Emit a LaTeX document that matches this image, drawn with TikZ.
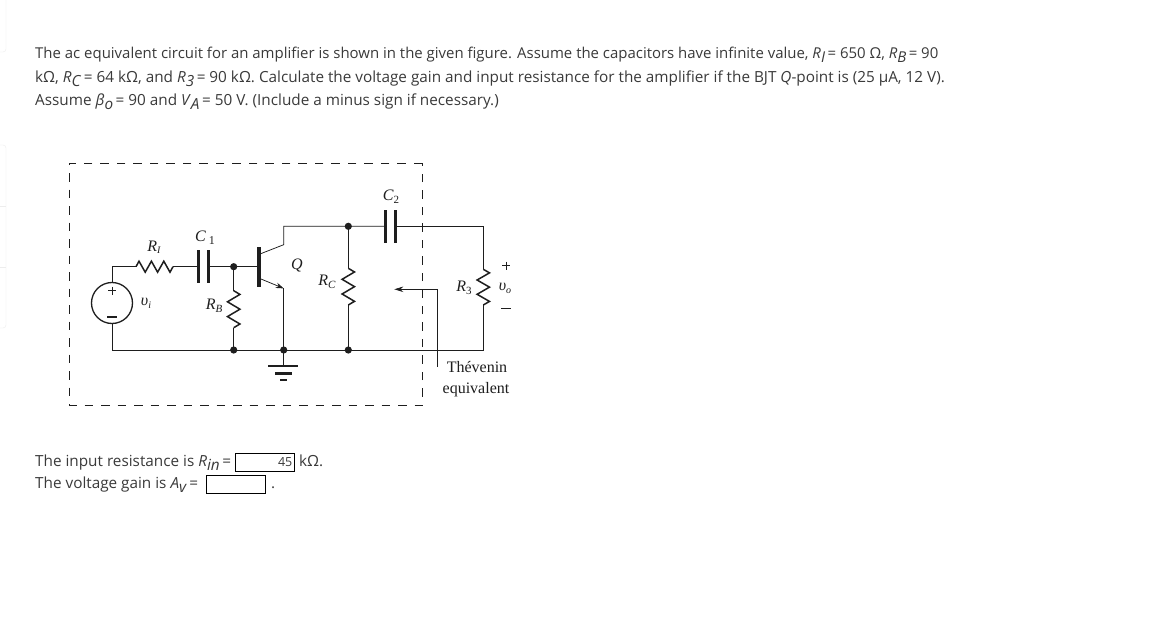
\documentclass[tikz,border=0pt]{standalone}
\usepackage{fontspec}
\setmainfont{Open Sans}
\newfontfamily\fig{Liberation Serif}
\usetikzlibrary{arrows.meta}
\definecolor{txt}{HTML}{3A3A3A}
\definecolor{ink}{HTML}{1E1E1E}
\definecolor{edge}{HTML}{EDEDED}
\newcommand{\ii}[1]{\textit{#1}}
\newcommand{\low}[1]{\raisebox{-4pt}{\textit{#1}}}
\newcommand{\zzv}[3]{\draw[res] (#1) -- ++(#3,{#2/10}) -- ++({-2*#3},{#2/5}) -- ++({2*#3},{#2/5}) -- ++({-2*#3},{#2/5}) -- ++({2*#3},{#2/5}) -- ++({-#3},{#2/10});}
\tikzset{
 x=1pt,y=-1pt,
 para/.style={anchor=base west,inner sep=0,text=txt,font=\fontsize{15.3}{16}\selectfont},
 lab/.style={inner sep=0,text=ink,font=\fig\fontsize{16}{18}\selectfont\itshape},
 wire/.style={draw=ink,line width=0.75pt},
 res/.style={draw=ink,line width=1.5pt,line join=miter},
 plate/.style={draw=ink,line width=2.6pt},
 dot/.style={circle,fill=ink,inner sep=0,minimum size=7.2pt},
 ansbox/.style={draw=black,line width=0.7pt,fill=white,inner sep=0,minimum height=18pt,rectangle},
 gbar/.style={draw=ink,line width=2.6pt},
}
\begin{document}
\begin{tikzpicture}
\useasboundingbox[fill=white] (0,0) rectangle (1173,623);
% faint page edges
\draw[edge,rounded corners=3pt] (-3,-3) -- (6,-3) -- (6,52) -- (-3,52);
\draw[edge,rounded corners=3pt] (-3,145) -- (6,145) -- (6,328) -- (-3,328);
\draw[edge] (0,206) -- (6,206);
\draw[edge] (0,267) -- (6,267);
% question text
\node[para,font=\fontsize{14.95}{16}\selectfont] (l1) at (35,59) {The ac equivalent circuit for an amplifier is shown in the given figure. Assume the capacitors have infinite value, \ii{R}\low{I}\,= 650 Ω, \ii{R}\low{B}\,= 90};
\node[para] (l2) at (35,82.5) {kΩ, \ii{R}\low{C}\,= 64 kΩ, and \ii{R}\low{3}\,= 90 kΩ. Calculate the voltage gain and input resistance for the amplifier if the BJT \ii{Q}-point is (25 μA, 12 V).};
\node[para] (l3) at (35,105.5) {Assume \ii{β}\low{o}\,= 90 and \ii{V}\low{A}\,= 50 V. (Include a minus sign if necessary.)};
% dashed box
\draw[draw=ink,line width=0.7pt,dash pattern=on 8.5pt off 8pt] (422.3,163) -- (69.5,163) -- (69.5,405.5) -- (422.3,405.5) -- cycle;
% junctions
\node[dot] (nb) at (233.7,266.7) {};
\node[dot] (nrb) at (233.7,350) {};
\node[dot] (ne) at (283.7,350) {};
\node[dot] (nc) at (348.3,226.3) {};
\node[dot] (nrc) at (348.3,350) {};
\coordinate (bl) at (112,350);
\coordinate (br) at (483.3,350);
\coordinate (tr) at (483.3,226.3);
\coordinate (tl) at (112,266.7);
\node[circle,draw=ink,line width=1.3pt,minimum size=41pt,inner sep=0] (src) at (112,303) {};
% wires
\draw[wire] (src.north) -- (tl) -- (136,266.7);
\draw[wire] (172.7,266.7) -- (198.3,266.7);
\draw[wire] (208.3,266.7) -- (nb.center) -- (259,266.7);
\draw[wire] (src.south) -- (bl) -- (br) -- (483.3,305);
\draw[wire] (483.3,269.3) -- (tr) -- (395.3,226.3);
\draw[wire] (385.7,226.3) -- (nc.center) -- (283.7,226.3) -- (283.7,244.7) -- (261,253.6);
\draw[wire] (nb.center) -- (233.7,290.7);
\draw[wire] (233.7,327.7) -- (nrb.center);
\draw[wire] (nc.center) -- (348.3,268.3);
\draw[wire] (348.3,305) -- (nrc.center);
% BJT
\draw[plate,line width=3.4pt] (259,247.3) -- (259,286.7);
\draw[wire,-{Stealth[length=8pt,width=5.5pt]}] (261,279) -- (283.7,288.4);
\draw[wire] (283.7,288) -- (ne.center);
% capacitors
\draw[plate] (198.3,250) -- (198.3,282.7);
\draw[plate] (208.3,250) -- (208.3,282.7);
\draw[plate] (385.7,210) -- (385.7,242.7);
\draw[plate] (395.3,210) -- (395.3,242.7);
% resistors
\draw[res] (136,266.7) -- ++(3,-5.5) -- ++(6.2,11) -- ++(6.2,-11) -- ++(6.2,11) -- ++(6.2,-11) -- ++(6.2,11) -- ++(3,-5.5);
\coordinate (rb) at (233.7,290.7); \zzv{rb}{37}{6.2}
\coordinate (rc) at (348.3,268.3); \zzv{rc}{36.7}{6.2}
\coordinate (r3) at (483.3,269.3); \zzv{r3}{35.7}{6.2}
% ground
\draw[wire] (ne.center) -- (283.7,366);
\draw[gbar] (268,366) -- (298.3,366);
\draw[gbar] (275,373.3) -- (291.5,373.3);
\draw[gbar] (280,380) -- (287.3,380);
% source signs
\draw[draw=ink,line width=0.7pt] (108,290.5) -- (116,290.5) (112,286.5) -- (112,294.5);
\draw[draw=ink,line width=1.5pt] (107,317) -- (117,317);
% Thevenin arrow
\coordinate (ta) at (394.3,289.3);
\coordinate (tb) at (437.3,289.3);
\coordinate (tc) at (437.3,366.7);
\draw[wire,-{Stealth[length=9pt,width=5.5pt]}] (tc) -- (tb) -- (ta);
% labels
\node[lab] (lri) at (154,247.5) {R\raisebox{-2pt}{\fontsize{10}{10}\selectfont I}};
\node[lab] (lc1) at (205,238) {C\kern3pt\raisebox{-3pt}{\upshape\fontsize{12}{12}\selectfont 1}};
\node[lab] (lvi) at (146,303) {\textit{υ}\raisebox{-3pt}{\fontsize{10}{10}\selectfont i}};
\node[lab] (lrb) at (214,306) {R\raisebox{-3pt}{\fontsize{11}{11}\selectfont B}};
\node[lab] (lq) at (297,265.5) {Q};
\node[lab] (lrc) at (327,282) {R\raisebox{-3pt}{\fontsize{11}{11}\selectfont C}};
\node[lab] (lc2) at (391,197) {C\raisebox{-3pt}{\upshape\fontsize{11}{11}\selectfont 2}};
\node[lab] (lr3) at (464,288) {R\raisebox{-3pt}{\upshape\fontsize{11}{11}\selectfont 3}};
\node[lab] (lvo) at (505,288) {\textit{υ}\raisebox{-3pt}{\fontsize{10}{10}\selectfont o}};
\draw[draw=ink,line width=0.8pt] (502,265.5) -- (510,265.5) (506,261.5) -- (506,269.5);
\draw[draw=ink,line width=1.6pt] (501,308.5) -- (511,308.5);
\node[lab,font=\fig\fontsize{16}{16}\selectfont] (lt1) at (477,367) {Thévenin};
\node[lab,font=\fig\fontsize{16}{16}\selectfont] (lt2) at (476,389.5) {equivalent};
% answers
\node[para] (a1) at (35,466) {The input resistance is \ii{R}\low{in}\,=};
\node[ansbox,minimum width=59.4pt] (b1) at (265,462.5) {};
\node[anchor=base east,inner sep=0,text=txt,font=\fontsize{12.5}{14}\selectfont] (v1) at (292.5,466.5) {45};
\node[para] (u1) at (299,466) {kΩ.};
\node[para] (a2) at (35,488) {The voltage gain is \ii{A}\low{v}\,=};
\node[ansbox,minimum width=59.7pt] (b2) at (235.8,484.2) {};
\node[para] (d2) at (271,488) {.};
\end{tikzpicture}
\end{document}
